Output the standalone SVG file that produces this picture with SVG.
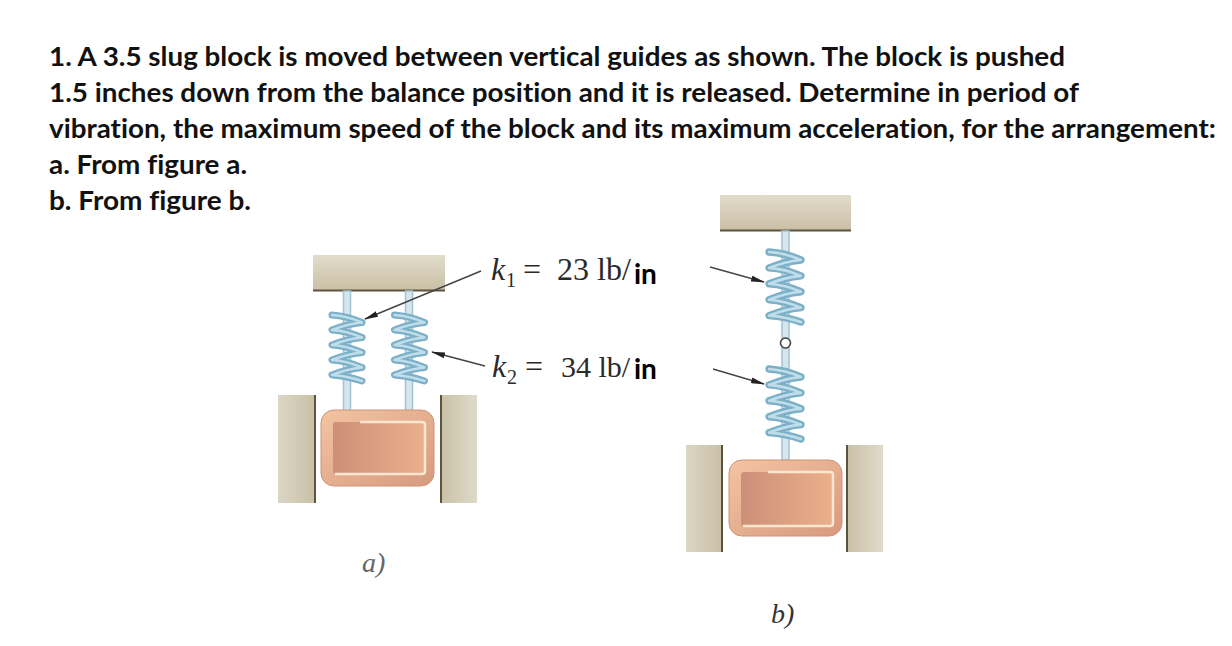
<svg xmlns="http://www.w3.org/2000/svg" xmlns:xlink="http://www.w3.org/1999/xlink" width="1232" height="646" viewBox="0 0 1232 646">
<style>
.q{font-family:"Lato","Open Sans",sans-serif;font-weight:700;font-size:26px;fill:#111;font-variant-ligatures:none}
.s{font-family:"Liberation Serif",serif;font-size:32px;fill:#2a2a2a}
.i{font-style:italic}
.u{font-family:"Lato","Open Sans",sans-serif;font-weight:700;font-size:28px;fill:#000}
.rod{fill:#d6e6ee;stroke:#a3c2d2;stroke-width:1.5}
.c1{fill:none;stroke:#7cafc8;stroke-width:7;stroke-linecap:round;stroke-linejoin:round}
.c2{fill:none;stroke:#c0deea;stroke-width:2.5;stroke-linecap:round;stroke-linejoin:round}
.ln{stroke:#444;stroke-width:1.4;fill:none}
.wd{stroke:#5c553c;stroke-width:2}
.hl{fill:none;stroke:#fbe6cf;stroke-width:2.5}
</style>
<defs>
<filter id="soft" x="-5%" y="-5%" width="110%" height="110%"><feGaussianBlur stdDeviation="0.6"/></filter>
<linearGradient id="gc" x1="0" y1="0" x2="0" y2="1"><stop offset="0" stop-color="#e2dccb"/><stop offset="1" stop-color="#c9bfa5"/></linearGradient>
<linearGradient id="gw" x1="0" y1="0" x2="1" y2="0"><stop offset="0" stop-color="#dbd6c5"/><stop offset="1" stop-color="#c9c0a5"/></linearGradient>
<linearGradient id="gw2" x1="0" y1="0" x2="1" y2="0"><stop offset="0" stop-color="#c9c0a5"/><stop offset="1" stop-color="#dfdacb"/></linearGradient>
<linearGradient id="gb" x1="0" y1="0" x2="1" y2="1"><stop offset="0" stop-color="#f3c4a2"/><stop offset="1" stop-color="#d79a7e"/></linearGradient>
<linearGradient id="gi" x1="0" y1="0" x2="1" y2="0"><stop offset="0" stop-color="#cc9078"/><stop offset="1" stop-color="#ebb08c"/></linearGradient>
<marker id="ah" viewBox="0 0 14 6" refX="13" refY="3" markerWidth="14" markerHeight="6" markerUnits="userSpaceOnUse" orient="auto"><path d="M0 0L14 3L0 6z" fill="#222"/></marker>
<path id="wave" d="M-15 0Q0 1 15 7.500Q0 9 -15 15Q0 16 15 22.500Q0 24 -15 30Q0 31 15 37.500Q0 39 -15 45Q0 46 15 52.500Q0 54 -15 60Q0 61 15 66"/>
<g id="coil">
<use xlink:href="#wave" href="#wave" class="c1"/>
<use xlink:href="#wave" href="#wave" class="c2"/>
</g>
</defs>
<rect width="1232" height="646" fill="#fff"/>
<g id="problem-text">
<text class="q" x="49" y="66" textLength="1016" lengthAdjust="spacingAndGlyphs">1. A 3.5 slug block is moved between vertical guides as shown. The block is pushed</text>
<text class="q" x="49" y="102" textLength="1030" lengthAdjust="spacingAndGlyphs">1.5 inches down from the balance position and it is released. Determine in period of</text>
<text class="q" x="49" y="138" textLength="1167" lengthAdjust="spacingAndGlyphs">vibration, the maximum speed of the block and its maximum acceleration, for the arrangement:</text>
<text class="q" x="49" y="174" textLength="198" lengthAdjust="spacingAndGlyphs">a. From figure a.</text>
<text class="q" x="49" y="210" textLength="202" lengthAdjust="spacingAndGlyphs">b. From figure b.</text>
</g>
<g id="figure-a" filter="url(#soft)">
<rect x="278" y="395" width="37" height="108" fill="url(#gw)"/><path class="wd" d="M315 395V503"/>
<rect x="440" y="395" width="37" height="108" fill="url(#gw2)"/><path class="wd" d="M441 395V503"/>
<rect x="313" y="255" width="132" height="36" fill="url(#gc)"/><path d="M313 290.500H445" stroke="#5c553c" stroke-width="2"/>
<rect class="rod" x="343.500" y="291" width="7" height="120"/>
<rect class="rod" x="405.500" y="291" width="7" height="120"/>
<use xlink:href="#coil" href="#coil" x="347" y="315"/>
<use xlink:href="#coil" href="#coil" x="409.500" y="315"/>
<rect x="321" y="410" width="113" height="76" rx="13" fill="url(#gb)" stroke="#cf9276" stroke-width="1"/>
<rect x="333" y="422" width="92" height="52" rx="3" fill="url(#gi)"/>
<path class="hl" d="M335 474H422Q425 474 425 471V425Q425 422 422 422H360"/>
</g>
<g id="figure-b" filter="url(#soft)">
<rect x="686" y="445" width="36" height="107" fill="url(#gw)"/><path class="wd" d="M722 445V552"/>
<rect x="847" y="445" width="36" height="107" fill="url(#gw2)"/><path class="wd" d="M847 445V552"/>
<rect x="720" y="195" width="131" height="36" fill="url(#gc)"/><path d="M720 230.500H851" stroke="#5c553c" stroke-width="2"/>
<rect class="rod" x="782" y="231" width="7" height="107"/>
<rect class="rod" x="782" y="348" width="7" height="112"/>
<use xlink:href="#coil" href="#coil" transform="translate(785 252) scale(1.06 1.06)"/>
<use xlink:href="#coil" href="#coil" transform="translate(785 369) scale(1.06 1.06)"/>
<circle cx="785.500" cy="343" r="5" fill="#fff" stroke="#444" stroke-width="1.600"/>
<rect x="729" y="460" width="113" height="76" rx="13" fill="url(#gb)" stroke="#cf9276" stroke-width="1"/>
<rect x="741" y="472" width="92" height="54" rx="3" fill="url(#gi)"/>
<path class="hl" d="M743 526H830Q833 526 833 523V475Q833 472 830 472H768"/>
</g>
<g id="connectors">
<path class="ln" marker-end="url(#ah)" d="M481 271L365 319"/>
<path class="ln" marker-end="url(#ah)" d="M485 366L432 352"/>
<path class="ln" marker-end="url(#ah)" d="M710 267L764 282"/>
<path class="ln" marker-end="url(#ah)" d="M713 369L764 384"/>
</g>
<g id="labels">
<text class="s i" x="491" y="280">k</text><text class="s" x="506" y="287" style="font-size:20px">1</text><text class="s" x="523" y="280">=</text><text class="s" x="557" y="280">23 lb/</text><text class="u" x="634" y="284">in</text>
<text class="s i" x="492" y="377">k</text><text class="s" x="507" y="384" style="font-size:20px">2</text><text class="s" x="525" y="377">=</text><text class="s" x="561" y="377" style="font-size:30px">34 lb/</text><text class="u" x="634" y="379">in</text>
<text class="s i" x="362" y="572" style="font-size:28px;fill:#666">a)</text>
<text class="s i" x="771" y="623" style="font-size:28px;fill:#333">b)</text>
</g>
</svg>
